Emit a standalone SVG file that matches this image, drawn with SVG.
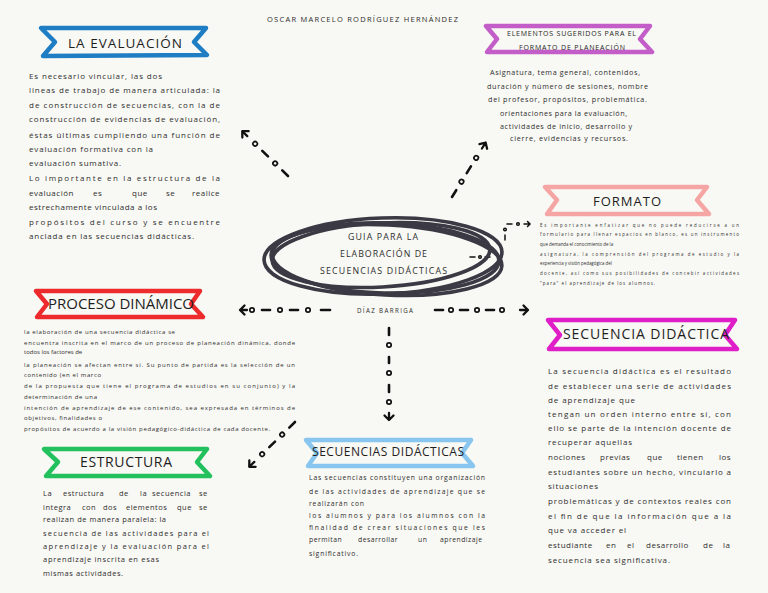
<svg xmlns="http://www.w3.org/2000/svg" xmlns:xlink="http://www.w3.org/1999/xlink" width="768" height="593" viewBox="0 0 768 593">
<style>
.bg{fill:#f8f8f4}
.bn{fill:none;stroke-width:4.5;stroke-linejoin:round;stroke-linecap:round}
.t{font-family:"Open Sans","DejaVu Sans",sans-serif;fill:#2e2e2e}
.ttl{font-family:"Open Sans","DejaVu Sans",sans-serif;fill:#1e1e1e;letter-spacing:1px;font-weight:500}
.ws{letter-spacing:0.5px}
.b8{font-size:8px}
.b75{font-size:7.5px}
.b7{font-size:6.8px}
.b6{font-size:6px}
.b45{font-size:4.4px}
.el{fill:none;stroke:#3b3a44;stroke-width:3.6}
.dash{stroke:#111;stroke-width:2.6;stroke-linecap:round}
.cir{fill:none;stroke:#111;stroke-width:1.7}
.arw{fill:none;stroke:#111;stroke-width:2.3;stroke-linecap:round;stroke-linejoin:round}
.sm{stroke:#111;stroke-width:1.5;stroke-linecap:round;fill:none}
</style>
<defs>
<g id="c2">
<line class="dash" x1="0" y1="0" x2="8" y2="0"/>
<circle class="cir" cx="18" cy="0" r="2.2"/>
<line class="dash" x1="28" y1="0" x2="36" y2="0"/>
<circle class="cir" cx="46" cy="0" r="2.2"/>
<path class="arw" d="M57,0 H64 M59.5,-4.5 L64,0 L59.5,4.5"/>
</g>
</defs>
<rect class="bg" x="0" y="0" width="768" height="593"/>

<text class="t" x="267" y="22" font-size="7.5" textLength="191">OSCAR MARCELO RODRÍGUEZ HERNÁNDEZ</text>

<g id="connectors">
<use xlink:href="#c2" href="#c2" transform="translate(288,176) rotate(224.4)"/>
<use xlink:href="#c2" href="#c2" transform="translate(452,197) rotate(-58.3)"/>
<use xlink:href="#c2" href="#c2" transform="translate(295,422) rotate(135.6)"/>
<g transform="translate(330,310) rotate(180)">
<line class="dash" x1="0" y1="0" x2="9" y2="0"/>
<circle class="cir" cx="22" cy="0" r="2.2"/>
<line class="dash" x1="32" y1="0" x2="40" y2="0"/>
<circle class="cir" cx="50" cy="0" r="2.2"/>
<line class="dash" x1="60" y1="0" x2="68" y2="0"/>
<circle class="cir" cx="78" cy="0" r="2.2"/>
<path class="arw" d="M83,0 H90 M85.5,-4.5 L90,0 L85.5,4.5"/>
</g>
<g transform="translate(435,310)">
<line class="dash" x1="0" y1="0" x2="8" y2="0"/>
<circle class="cir" cx="16" cy="0" r="2.2"/>
<line class="dash" x1="25" y1="0" x2="33" y2="0"/>
<circle class="cir" cx="42" cy="0" r="2.2"/>
<line class="dash" x1="51" y1="0" x2="59" y2="0"/>
<circle class="cir" cx="67" cy="0" r="2.2"/>
<path class="arw" d="M85,0 H93 M88.5,-4.5 L93,0 L88.5,4.5"/>
</g>
<g transform="translate(389,328) rotate(90)">
<line class="dash" x1="0" y1="0" x2="7" y2="0"/>
<circle class="cir" cx="17" cy="0" r="2.2"/>
<line class="dash" x1="29" y1="0" x2="35" y2="0"/>
<circle class="cir" cx="45" cy="0" r="2.2"/>
<line class="dash" x1="57" y1="0" x2="64" y2="0"/>
<circle class="cir" cx="74" cy="0" r="2.2"/>
<path class="arw" d="M85,0 H92 M87.5,-4.5 L92,0 L87.5,4.5"/>
</g>
<g>
<line class="sm" x1="470" y1="257" x2="475" y2="257"/>
<circle class="sm" cx="480" cy="257" r="1.3"/>
<line class="sm" x1="485" y1="257" x2="490" y2="257"/>
<line class="sm" x1="505" y1="235" x2="505" y2="240"/>
<circle class="sm" cx="505" cy="229.5" r="1.3"/>
<line class="sm" x1="507" y1="224" x2="512" y2="224"/>
<circle class="sm" cx="518" cy="224" r="1.3"/>
<path class="sm" d="M524,224 H530 M527.5,221.5 L530,224 L527.5,226.5"/>
</g>
</g>

<g id="centro">
<ellipse class="el" cx="383" cy="256" rx="119" ry="38" transform="rotate(-2 383 256)"/>
<ellipse class="el" cx="385" cy="258" rx="114" ry="35" transform="rotate(1.5 385 258)"/>
<ellipse class="el" cx="381" cy="255" rx="109" ry="32" transform="rotate(-3 381 255)"/>
<ellipse class="el" cx="387" cy="260" rx="115" ry="35" transform="rotate(3 387 260)"/>
<text class="t" x="348" y="240" font-size="8.8" textLength="70">GUIA PARA LA</text>
<text class="t" x="340" y="257" font-size="8.8" textLength="87">ELABORACIÓN DE</text>
<text class="t" x="320" y="274" font-size="8.8" textLength="127">SECUENCIAS DIDÁCTICAS</text>
<text class="t" x="357" y="312.5" font-size="6.2" textLength="56">DÍAZ BARRIGA</text>
</g>

<g id="evaluacion">
<polygon class="bn" stroke="#1f7ec3" points="41,28 206,28 194,42 207,55 43,56 55,42"/>
<text class="ttl" x="68" y="48" font-size="13.5" textLength="115">LA EVALUACIÓN</text>
<g class="t b8">
<text x="29" y="78.5" textLength="133">Es necesario vincular, las dos</text>
<text x="29" y="93" textLength="191">lineas de trabajo de manera articulada: la</text>
<text x="29" y="108" textLength="191">de construcción de secuencias, con la de</text>
<text x="29" y="122" textLength="191">construcción de evidencias de evaluación,</text>
<text x="29" y="137.5" textLength="191">éstas últimas cumpliendo una función de</text>
<text x="29" y="151.5" textLength="124">evaluación formativa con la</text>
<text x="29" y="165.5" textLength="92">evaluación sumativa.</text>
<text x="29" y="181" textLength="191">Lo importante en la estructura de la</text>
<text class="ws" y="195.5"><tspan x="29">evaluación</tspan><tspan x="93">es</tspan><tspan x="132">que</tspan><tspan x="166">se</tspan><tspan x="192">realice</tspan></text>
<text x="29" y="209.5" textLength="128">estrechamente vinculada a los</text>
<text x="29" y="224.5" textLength="191">propósitos del curso y se encuentre</text>
<text x="29" y="238.5" textLength="165">anclada en las secuencias didácticas.</text>
</g>
</g>

<g id="elementos">
<polygon class="bn" stroke="#c35ec9" points="486,26 650,26 640,39 652,52 487,52 497,39"/>
<text class="ttl" x="507" y="35.5" font-size="7" textLength="130">ELEMENTOS SUGERIDOS PARA EL</text>
<text class="ttl" x="519" y="49.5" font-size="7" textLength="107">FORMATO DE PLANEACIÓN</text>
<g class="t" font-size="7.2">
<text x="490" y="74.5" textLength="150">Asignatura, tema general, contenidos,</text>
<text x="487" y="88.5" textLength="161">duración y número de sesiones, nombre</text>
<text x="488" y="101.5" textLength="159">del profesor, propósitos, problemática.</text>
<text x="500" y="115.5" textLength="127">orientaciones para la evaluación,</text>
<text x="500" y="128.5" textLength="132">actividades de inicio, desarrollo y</text>
<text x="510" y="140.5" textLength="118">cierre, evidencias y recursos.</text>
</g>
</g>

<g id="formato">
<polygon class="bn" stroke="#f5a6a4" points="545,187 707,187 697,200 709,214 547,214 557,200"/>
<text class="ttl" x="593" y="205.5" font-size="13" textLength="69">FORMATO</text>
<g class="t b45">
<text x="540" y="226.5" textLength="199">Es importante enfatizar que no puede reducirse a un</text>
<text x="540" y="236" textLength="199">formulario para llenar espacios en blanco, es un instrumento</text>
<text x="540" y="245.5">que demanda el conocimiento de la</text>
<text x="540" y="255.5" textLength="199">asignatura, la comprensión del programa de estudio y la</text>
<text x="540" y="265">experiencia y visión pedagógica del</text>
<text x="540" y="274.5" textLength="199">docente, así como sus posibilidades de concebir actividades</text>
<text x="540" y="284.5" textLength="115">"para" el aprendizaje de los alumnos.</text>
</g>
</g>

<g id="proceso">
<polygon class="bn" stroke="#ee2b2c" stroke-width="5" points="36,291 200,291 191,304 203,317 37,317 47,304"/>
<text class="ttl" x="48" y="308.5" font-size="15" textLength="147">PROCESO DINÁMICO</text>
<g class="t b6">
<text x="24" y="333.5" textLength="151">la elaboración de una secuencia didáctica se</text>
<text x="24" y="344.5" textLength="271">encuentra inscrita en el marco de un proceso de planeación dinámica, donde</text>
<text x="24" y="354">todos los factores de</text>
<text x="24" y="366.5" textLength="271">la planeación se afectan entre si. Su punto de partida es la selección de un</text>
<text x="24" y="377" textLength="77">contenido (en el marco</text>
<text x="24" y="387.5" textLength="271">de la propuesta que tiene el programa de estudios en su conjunto) y la</text>
<text x="24" y="399" textLength="73">determinación de una</text>
<text x="24" y="409.5" textLength="271">intención de aprendizaje de ese contenido, sea expresada en términos de</text>
<text x="24" y="420" textLength="78">objetivos, finalidades o</text>
<text x="24" y="431" textLength="246">propósitos de acuerdo a la visión pedagógico-didáctica de cada docente.</text>
</g>
</g>

<g id="secuencia-didactica">
<polygon class="bn" stroke="#e01ec8" stroke-width="5" points="548,320 735,320 725,335 737,349 549,349 560,335"/>
<text class="ttl" x="563" y="338.5" font-size="14" textLength="167">SECUENCIA DIDÁCTICA</text>
<g class="t b8">
<text x="548" y="373.5" textLength="183">La secuencia didáctica es el resultado</text>
<text x="548" y="388.5" textLength="183">de establecer una serie de actividades</text>
<text x="548" y="402.5" textLength="87">de aprendizaje que</text>
<text x="548" y="416.5" textLength="183">tengan un orden interno entre sí, con</text>
<text x="548" y="430.5" textLength="183">ello se parte de la intención docente de</text>
<text x="548" y="445" textLength="84">recuperar aquellas</text>
<text class="ws" y="459.5"><tspan x="548">nociones</tspan><tspan x="600">previas</tspan><tspan x="647">que</tspan><tspan x="677">tienen</tspan><tspan x="719">los</tspan></text>
<text x="548" y="475" textLength="183">estudiantes sobre un hecho, vincularlo a</text>
<text x="548" y="489" textLength="50">situaciones</text>
<text x="548" y="504" textLength="183">problemáticas y de contextos reales con</text>
<text x="548" y="519" textLength="183">el fin de que la información que a la</text>
<text x="548" y="533" textLength="78">que va acceder el</text>
<text class="ws" y="548"><tspan x="548">estudiante</tspan><tspan x="606">en</tspan><tspan x="627">el</tspan><tspan x="646">desarrollo</tspan><tspan x="703">de</tspan><tspan x="723">la</tspan></text>
<text x="548" y="562.5" textLength="122">secuencia sea significativa.</text>
</g>
</g>

<g id="estructura">
<polygon class="bn" stroke="#22c15e" points="44,449 207,449 197,462 210,476 46,476 58,462"/>
<text class="ttl" x="80" y="467" font-size="14" textLength="93">ESTRUCTURA</text>
<g class="t b75">
<text class="ws" y="495.5"><tspan x="43">La</tspan><tspan x="63">estructura</tspan><tspan x="119">de</tspan><tspan x="140">la</tspan><tspan x="152">secuencia</tspan><tspan x="199">se</tspan></text>
<text class="ws" y="509.5"><tspan x="43">integra</tspan><tspan x="82">con</tspan><tspan x="103">dos</tspan><tspan x="126">elementos</tspan><tspan x="177">que</tspan><tspan x="199">se</tspan></text>
<text x="43" y="522" textLength="123">realizan de manera paralela: la</text>
<text x="43" y="535.5" textLength="166">secuencia de las actividades para el</text>
<text x="43" y="548.5" textLength="166">aprendizaje y la evaluación para el</text>
<text x="43" y="561.5" textLength="116">aprendizaje inscrita en esas</text>
<text x="43" y="575.5" textLength="80">mismas actividades.</text>
</g>
</g>

<g id="secuencias-didacticas">
<polygon class="bn" stroke="#88c6ef" stroke-width="5" points="306,440 471,440 462,453 473,466 308,466 317,453"/>
<text class="ttl" x="312" y="455.5" font-size="12" textLength="153">SECUENCIAS DIDÁCTICAS</text>
<g class="t b7">
<text x="309" y="480" textLength="176">Las secuencias constituyen una organización</text>
<text x="309" y="494" textLength="176">de las actividades de aprendizaje que se</text>
<text x="309" y="506" textLength="55">realizarán con</text>
<text x="309" y="518" textLength="176">los alumnos y para los alumnos con la</text>
<text x="309" y="530" textLength="176">finalidad de crear situaciones que les</text>
<text class="ws" y="542"><tspan x="309">permitan</tspan><tspan x="358">desarrollar</tspan><tspan x="418">un</tspan><tspan x="440">aprendizaje</tspan></text>
<text x="309" y="556" textLength="49">significativo.</text>
</g>
</g>
</svg>
